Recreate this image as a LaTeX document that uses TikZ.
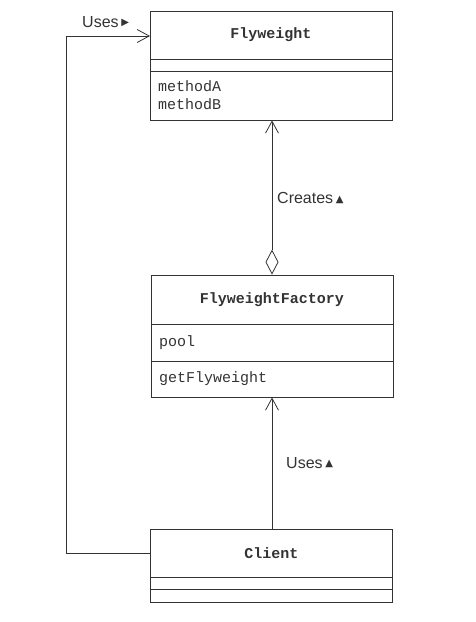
\documentclass[tikz,border=0pt]{standalone}
\usepackage{fontspec}
\setmainfont{Liberation Sans}
\newfontfamily\monofont{Liberation Mono}
\newfontfamily\symfont{DejaVu Sans}
\newcommand\trimark[1]{\raisebox{1.5pt}{\symfont\fontsize{10}{10}\selectfont #1}}
\usetikzlibrary{arrows.meta,calc}
\definecolor{ink}{gray}{0.2}
\begin{document}
\begin{tikzpicture}[x=1pt,y=-1pt,
  ln/.style={draw=ink,line width=0.8pt},
  classbox/.style={draw=ink,line width=0.8pt,rectangle,inner sep=0pt,minimum width=242pt},
  cname/.style={font=\monofont\bfseries\fontsize{15}{16}\selectfont,text=ink},
  member/.style={font=\monofont\fontsize{15}{18}\selectfont,text=ink,anchor=west,align=left,inner sep=0pt},
  lbl/.style={font=\fontsize{16}{18}\selectfont,text=ink,anchor=west,inner sep=0pt},
  open/.style={ln,-{Straight Barb[length=12pt,width=13pt,line width=0.8pt]}},
  agg/.style={ln,{Diamond[open,length=25pt,width=13pt,line width=0.8pt]}-{Straight Barb[length=12pt,width=13pt,line width=0.8pt]}}
]
\useasboundingbox (0,0) rectangle (475,622);
% Flyweight
\node[classbox,minimum height=109pt] (fw) at (271,65.5) {};
\node[cname] (fwn) at (271,35) {Flyweight};
\draw[ln] (150,59) -- (392,59);
\draw[ln] (150,71) -- (392,71);
\node[member] (fwm) at (158,95.5) {methodA\\methodB};
% FlyweightFactory
\node[classbox,minimum height=122pt] (fac) at (272,336) {};
\node[cname] (facn) at (272,300) {FlyweightFactory};
\draw[ln] (151,324) -- (393,324);
\draw[ln] (151,361) -- (393,361);
\node[member] (pool) at (159,342.5) {pool};
\node[member] (getf) at (159,379) {getFlyweight};
% Client
\node[classbox,minimum height=73pt] (cl) at (271.5,565.5) {};
\node[cname] (cln) at (271.5,553) {Client};
\draw[ln] (150.5,577) -- (392.5,577);
\draw[ln] (150.5,589) -- (392.5,589);
% connectors
\coordinate (clout) at (150.5,553);
\coordinate (fwin) at (150,36);
\coordinate (corner) at (66,553);
\draw[open] (clout) -- (corner) |- (fwin);
\draw[agg] (fac.north) -- (fac.north |- fw.south);
\draw[open] (cl.north -| fac.south) -- (fac.south);
% labels
\node[lbl] (l1) at (82,22) {Uses\,\trimark{▶}};
\node[lbl] (l2) at (277,198) {Creates\,\trimark{▲}};
\node[lbl] (l3) at (286,463) {Uses\,\trimark{▲}};
\end{tikzpicture}
\end{document}
